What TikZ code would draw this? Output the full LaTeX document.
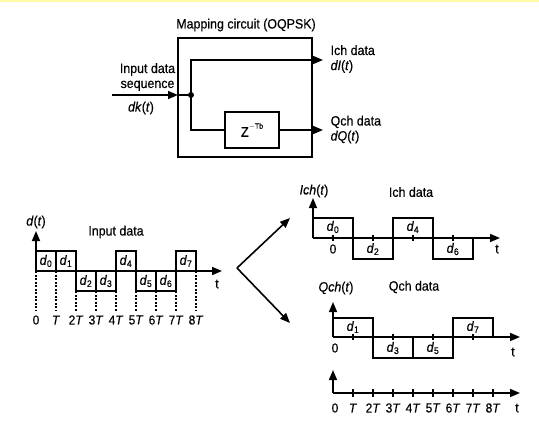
\documentclass[tikz,border=0pt]{standalone}
\usepackage{fontspec}
\setmainfont{Liberation Sans}[FakeStretch=0.92, FakeBold=0.4]
\usetikzlibrary{arrows.meta}
\begin{document}
\begin{tikzpicture}[x=1pt,y=-1pt, line width=1.3pt,
  >={Triangle[length=10pt,width=8pt]},
  lbl/.style={font=\fontsize{13.5}{15}\selectfont, inner sep=0pt},
  bit/.style={font=\fontsize{13.5}{15}\selectfont, inner sep=0pt},
  tlab/.style={font=\fontsize{13}{15}\selectfont, inner sep=0pt},
  axis/.style={line width=1.6pt},
  sig/.style={line width=1.4pt},
  dots/.style={line width=1.7pt, dash pattern=on 2pt off 1.5pt},
  tick/.style={line width=1.1pt}]
\useasboundingbox (0,0) rectangle (539,426);
\fill[yellow!35] (0,0) rectangle (539,2);

% ---------- mapping circuit ----------
\node[draw, line width=1.6pt, minimum width=134, minimum height=119, inner sep=0] (box) at (245,97.5) {};
\node[lbl] (title) at (246,25) {Mapping circuit (OQPSK)};
\node[draw, line width=1.5pt, minimum width=54, minimum height=36, inner sep=0] (zb) at (252,130)
  {\fontsize{14}{16}\selectfont Z\raisebox{1.1ex}{\fontsize{7.5}{8}\selectfont $-$Tb}};
\node[circle, fill, inner sep=0, minimum size=6] (dot) at (191,95) {};
\coordinate (in) at (112,95);
\coordinate (inedge) at (178,95);
\coordinate (iout) at (323,60);
\coordinate (qout) at (323,130);
\draw[line width=1.5pt,->] (in) -- (inedge);
\draw[line width=1.5pt] (inedge) -- (dot.center);
\draw[line width=1.5pt,->] (dot.center) |- (iout);
\draw[line width=1.5pt] (dot.center) |- (zb.west);
\draw[line width=1.5pt,->] (zb.east) -- (qout);
\node[lbl, align=center] (inlab) at (147.5,77) {Input data\\sequence};
\node[lbl] (dk) at (141,108) {\textit{dk}(\textit{t})};
\node[lbl, anchor=west, align=left] (ilab) at (330,59) {Ich data\\\textit{dI}(\textit{t})};
\node[lbl, anchor=west, align=left] (qlab) at (330,129.5) {Qch data\\\textit{dQ}(\textit{t})};

% ---------- input data plot ----------
\coordinate (o1) at (36,271);
\coordinate (o1y) at (36,231);
\coordinate (o1x) at (222,271);
\foreach \k/\s in {0/271,1/271,2/291,3/291,4/291,5/291,6/291,7/291,8/271}
  \draw[dots] (36+20*\k,\s) -- (36+20*\k,311);
\foreach \k in {0,1,4,7}
  \draw[sig] (36+20*\k,271) rectangle (56+20*\k,251);
\foreach \k in {2,3,5,6}
  \draw[sig] (36+20*\k,271) rectangle (56+20*\k,291);
\foreach \k in {0,1,4,7}
  \node[bit] (b\k) at (46+20*\k,261) {\textit{d}\textsubscript{\k}};
\foreach \k in {2,3,5,6}
  \node[bit] (b\k) at (46+20*\k,281) {\textit{d}\textsubscript{\k}};
\draw[axis,->] (o1) -- (o1x);
\draw[axis,->] (o1) -- (o1y);
\node[tlab] (l0) at (36,320) {0};
\node[tlab] (l1) at (56,320) {\textit{T}};
\foreach \k in {2,...,8}
  \node[tlab] (l\k) at (36+20*\k,320) {\k\textit{T}};
\node[lbl] (t1) at (217,284) {t};
\node[lbl] (dt) at (36,222) {\textit{d}(\textit{t})};
\node[lbl] (indata) at (116,232) {Input data};

% ---------- split arrows ----------
\coordinate (v) at (237,268);
\coordinate (up) at (290,218);
\coordinate (dn) at (290,323);
\draw[line width=1.6pt,->] (v) -- (up);
\draw[line width=1.6pt,->] (v) -- (dn);

% ---------- Ich plot ----------
\coordinate (o2) at (313,238);
\draw[sig] (313,218) -- (353,218) -- (353,259) -- (393,259) -- (393,218) -- (433,218) -- (433,259) -- (473,259) -- (473,238);
\foreach \x in {333,373,413,453}
  \draw[tick] (\x,235) -- (\x,241);
\draw[axis,->] (o2) -- (500,238);
\draw[axis,->] (o2) -- (313,198);
\node[bit] (i0) at (333,227) {\textit{d}\textsubscript{0}};
\node[bit] (i2) at (373,249) {\textit{d}\textsubscript{2}};
\node[bit] (i4) at (413,227) {\textit{d}\textsubscript{4}};
\node[bit] (i6) at (453,249) {\textit{d}\textsubscript{6}};
\node[tlab] (i00) at (333,249) {0};
\node[lbl] (it) at (497,249) {t};
\node[lbl] (ich) at (314,191) {\textit{Ich}(\textit{t})};
\node[lbl] (ichd) at (411,192) {Ich data};

% ---------- Qch plot ----------
\coordinate (o3) at (333,337);
\draw[sig] (333,318) -- (373,318) -- (373,358) -- (453,358) -- (453,318) -- (493,318) -- (493,337);
\draw[sig] (413,337) -- (413,358);
\foreach \x in {353,393,433,473}
  \draw[tick] (\x,334) -- (\x,340);
\draw[axis,->] (o3) -- (520,337);
\draw[axis,->] (o3) -- (333,302);
\node[bit] (q1) at (353,327) {\textit{d}\textsubscript{1}};
\node[bit] (q3) at (393,348) {\textit{d}\textsubscript{3}};
\node[bit] (q5) at (433,348) {\textit{d}\textsubscript{5}};
\node[bit] (q7) at (473,327) {\textit{d}\textsubscript{7}};
\node[tlab] (q00) at (335,348) {0};
\node[lbl] (qt) at (513,352) {t};
\node[lbl] (qch) at (336,288) {\textit{Qch}(\textit{t})};
\node[lbl] (qchd) at (414,287) {Qch data};

% ---------- time axis ----------
\coordinate (o4) at (333,393);
\foreach \k in {1,...,8}
  \draw[tick] (333+20*\k,389) -- (333+20*\k,397);
\draw[axis,->] (o4) -- (520,393);
\draw[axis,->] (o4) -- (333,370);
\node[tlab] (m0) at (335,408) {0};
\node[tlab] (m1) at (353,408) {\textit{T}};
\foreach \k in {2,...,8}
  \node[tlab] (m\k) at (333+20*\k,408) {\k\textit{T}};
\node[lbl] (mt) at (517,408) {t};
\end{tikzpicture}
\end{document}
